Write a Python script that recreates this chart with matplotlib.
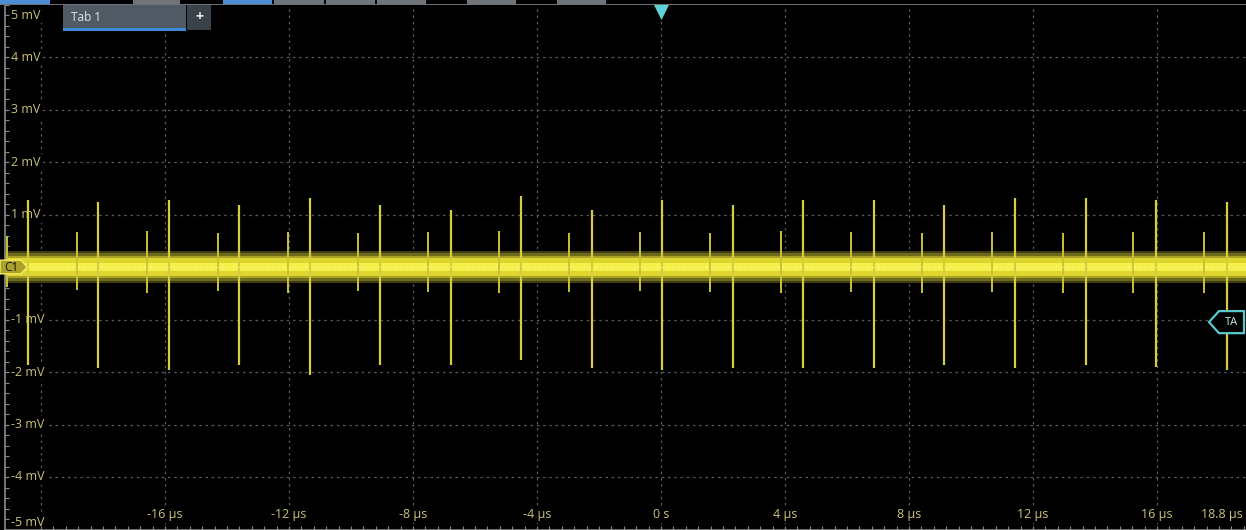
import numpy as np
import matplotlib.pyplot as plt
from matplotlib.patches import Polygon, Rectangle
from matplotlib.transforms import blended_transform_factory

# time window (us) and vertical range (mV)
t_left, t_right = -21.16, 18.87
v_range = (-5, 5)

# tall glitches: times (us), positive peak and negative peak (mV)
tall_t = [-20.42, -18.16, -15.87, -13.61, -11.32, -9.06, -6.77, -4.52, -2.23,
          0.03, 2.32, 4.58, 6.87, 9.13, 11.42, 13.71, 15.97, 18.26]
tall_hi = [1.28, 1.24, 1.28, 1.18, 1.31, 1.18, 1.09, 1.35, 1.09,
           1.28, 1.18, 1.28, 1.28, 1.18, 1.31, 1.31, 1.28, 1.24]
tall_lo = [-1.87, -1.92, -1.96, -1.87, -2.06, -1.87, -1.87, -1.77, -1.92,
           -1.96, -1.92, -1.92, -1.92, -1.87, -1.92, -1.87, -1.90, -1.96]

# small glitches
small_t = [-21.10, -18.84, -16.58, -14.29, -12.03, -9.77, -7.52, -5.23, -2.97,
           -0.68, 1.58, 3.87, 6.13, 8.42, 10.68, 12.97, 15.23, 17.52]
small_hi = [0.60, 0.67, 0.69, 0.65, 0.67, 0.64, 0.66, 0.68, 0.64,
            0.67, 0.65, 0.68, 0.66, 0.64, 0.67, 0.65, 0.67, 0.66]
small_lo = [-0.38, -0.44, -0.50, -0.46, -0.50, -0.45, -0.48, -0.50, -0.47,
            -0.46, -0.48, -0.50, -0.47, -0.49, -0.48, -0.50, -0.50, -0.49]

# baseline band: half widths (mV) from outer glow to core, with colours
band_w = [0.31, 0.26, 0.21, 0.17, 0.08]
band_c = ['#3e3b10', '#6e6a1c', '#a9a226', '#ded62e', '#f8f04a']

trigger_level = -1.05

y_ticks = [5, 4, 3, 2, 1, -1, -2, -3, -4, -5]
x_ticks = [-16, -12, -8, -4, 0, 4, 8, 12, 16]
x_labels = ['-16 µs', '-12 µs', '-8 µs', '-4 µs', '0 s', '4 µs', '8 µs', '12 µs', '16 µs']
x_end_label = '18.8 µs'

W, H = 1246, 530
plt.rcParams['font.family'] = ['Open Sans', 'DejaVu Sans']
fig = plt.figure(figsize=(W / 100, H / 100), dpi=100, facecolor='black')
ax = fig.add_axes([5 / W, 0.5 / H, 1241 / W, 525 / H])
ax.set_facecolor('black')
ax.set_xlim(t_left, t_right)
ax.set_ylim(*v_range)

lab_col = '#c9c27a'

# grid
for gx in np.arange(-20, 17, 4):
    ax.axvline(gx, color='#5a5a5a', lw=0.9, ls=(0, (2, 3)), zorder=1)
for gy in range(-4, 5):
    if gy != 0:
        ax.axhline(gy, color='#5a5a5a', lw=0.9, ls=(0, (2, 3)), zorder=1)

# tick labels inside the plot (above grid, below the trace)
box = dict(boxstyle='square,pad=0.15', fc='black', ec='none')
ytr = ax.get_yaxis_transform()
for v in y_ticks:
    yy = min(max(v, -4.86), 4.8)
    ax.text(0.0045, yy, f'{v} mV', transform=ytr, ha='left', va='center',
            fontsize=9, color=lab_col, zorder=1.5, bbox=box)
for t, lab in zip(x_ticks, x_labels):
    ax.text(t, -4.71, lab, ha='center', va='center', fontsize=9, color=lab_col,
            zorder=1.5, bbox=box)
ax.text(t_right - 0.1, -4.71, x_end_label, ha='right', va='center',
        fontsize=9, color=lab_col, zorder=1.5, bbox=box)

# baseline trace
for i, (hw, c) in enumerate(zip(band_w, band_c)):
    ax.fill_between([t_left, t_right], -hw, hw, color=c, lw=0, zorder=2 + i * 0.1)

# glitches
ax.vlines(small_t, small_lo, small_hi, color='#cbc238', lw=1.4, zorder=5)
ax.vlines(tall_t, tall_lo, tall_hi, color='#d6cd3e', lw=1.6, zorder=5)

ax.axhline(0, color='#fdf8b0', lw=0.8, ls=(0, (2, 3)), alpha=0.7, zorder=6)

# axes frame and ticks
for s in ['top', 'right']:
    ax.spines[s].set_visible(False)
for s in ['left', 'bottom']:
    ax.spines[s].set_color('#8a8a8a')
    ax.spines[s].set_linewidth(1.2)
ax.set_xticks(np.arange(-20, 18.9, 0.4))
ax.set_yticks(np.arange(-5, 5.01, 0.2))
ax.tick_params(direction='in', length=3, width=0.8, color='#8a8a8a',
               labelleft=False, labelbottom=False)

# channel marker and trigger level marker
dtr = blended_transform_factory(fig.transFigure, ax.transData)
px = lambda p: p / W
ax.add_patch(Polygon([(px(0), 0.13), (px(21), 0.13), (px(27), 0), (px(21), -0.13), (px(0), -0.13)],
                     closed=True, transform=dtr, fc='#aaa22a', ec='#f4ec5c', lw=1.0,
                     zorder=9, clip_on=False))
ax.text(px(11), 0, 'C1', transform=dtr, ha='center', va='center', fontsize=8.5,
        color='#15150a', zorder=10)
tl = trigger_level
ax.add_patch(Polygon([(px(1209), tl), (px(1219), tl + 0.21), (px(1244), tl + 0.21),
                      (px(1244), tl - 0.21), (px(1219), tl - 0.21)],
                     closed=True, transform=dtr, fc='black', ec='#58c9cc', lw=1.6,
                     zorder=9, clip_on=False))
ax.text(px(1231), tl, 'TA', transform=dtr, ha='center', va='center', fontsize=8,
        color='#c8ecec', zorder=10)

# UI chrome overlay (pixel coordinates)
ui = fig.add_axes([0, 0, 1, 1], zorder=5)
ui.set_xlim(0, W)
ui.set_ylim(H, 0)
ui.axis('off')
ui.patch.set_alpha(0)
ui.add_patch(Rectangle((0, 3.5), W, 1.5, color='#6e7276', lw=0))
segs = [(0, 50, '#4a8fd8'), (133, 180, '#70757a'), (223, 272, '#4a8fd8'),
        (274, 324, '#70757a'), (326, 375, '#70757a'), (377, 426, '#70757a'),
        (467, 516, '#70757a'), (557, 606, '#70757a')]
for a, b, c in segs:
    ui.add_patch(Rectangle((a, 0), b - a, 4, color=c, lw=0))
ui.add_patch(Rectangle((63, 5), 123, 25, color='#4f5a64', lw=0))
ui.add_patch(Rectangle((63, 28), 123, 2.5, color='#3f8ad6', lw=0))
ui.add_patch(Rectangle((187, 5), 24, 25, color='#3a4249', lw=0))
ui.text(71, 17.5, 'Tab 1', ha='left', va='center', fontsize=8.5, color='#e2e6ea')
ui.text(199, 17, '+', ha='center', va='center', fontsize=10, color='#e8eaec',
        fontweight='bold')
ui.add_patch(Polygon([(654, 5), (669, 5), (661.5, 20)], closed=True, color='#5ed2d8', lw=0))

fig.savefig('out.png', dpi=100, facecolor='black')
